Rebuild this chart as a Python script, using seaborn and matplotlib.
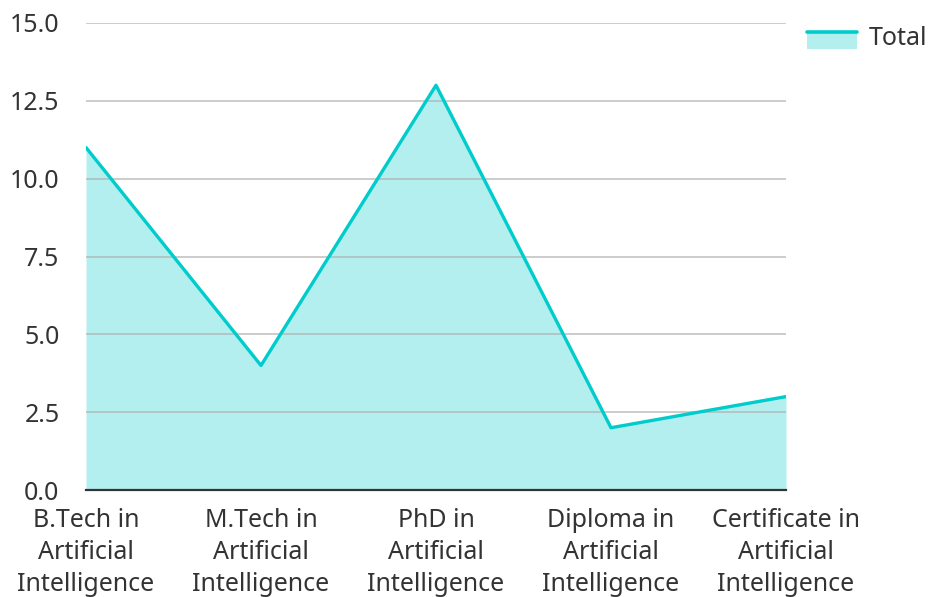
import numpy as np
import pandas as pd
import matplotlib.pyplot as plt
import seaborn as sns
from matplotlib.patches import Rectangle
from matplotlib.lines import Line2D

# chart data
courses = ["B.Tech in\nArtificial\nIntelligence", "M.Tech in\nArtificial\nIntelligence",
           "PhD in\nArtificial\nIntelligence", "Diploma in\nArtificial\nIntelligence",
           "Certificate in\nArtificial\nIntelligence"]
totals = [11, 4, 13, 2, 3]
y_ticks = [0.0, 2.5, 5.0, 7.5, 10.0, 12.5, 15.0]

df = pd.DataFrame({"pos": np.arange(len(courses)), "Total": totals})

sns.set_style("white")
plt.rcParams['font.family'] = ['Noto Sans', 'DejaVu Sans']

line_col = "#00cccc"
fill_col = "#b2efee"
text_col = "#333333"


# legend key: filled area with the line on its top edge
class AreaHandler:
    def legend_artist(self, legend, orig_handle, fontsize, handlebox):
        x0, y0 = handlebox.xdescent, handlebox.ydescent
        w, h = handlebox.width, handlebox.height
        top = y0 + h * 0.7
        patch = Rectangle((x0, top - h * 0.95), w, h * 0.95, facecolor=fill_col,
                          edgecolor="none", transform=handlebox.get_transform())
        line = Line2D([x0, x0 + w], [top, top], color=line_col, lw=2.6,
                      transform=handlebox.get_transform())
        handlebox.add_artist(patch)
        handlebox.add_artist(line)
        return patch


fig = plt.figure(figsize=(9.29, 5.97), dpi=100)
ax = fig.add_axes([86/929, 1 - 490/597, 700/929, 467/597])

ax.fill_between(df["pos"], df["Total"], color=fill_col, zorder=1, lw=0)
for t in y_ticks[1:]:
    ax.axhline(t, color="#b0b0b0", lw=1.2, alpha=0.75, zorder=2)
sns.lineplot(data=df, x="pos", y="Total", color=line_col, lw=2.4, ax=ax, zorder=3)

ax.set_xlim(0, len(courses) - 1)
ax.set_ylim(0, 15)
ax.set_yticks(y_ticks)
ax.set_yticklabels([f"{t:.1f}" for t in y_ticks])
ax.set_xticks(df["pos"])
ax.set_xticklabels(courses, linespacing=1.36)
ax.tick_params(axis="both", length=0, labelsize=18, labelcolor=text_col)
ax.tick_params(axis="y", pad=19)
ax.tick_params(axis="x", pad=13)
ax.set_xlabel("")
ax.set_ylabel("")
for s in ["top", "right", "left"]:
    ax.spines[s].set_visible(False)
ax.spines["bottom"].set_color("#333333")
ax.spines["bottom"].set_linewidth(1.6)
ax.spines["bottom"].set_zorder(4)

fig.legend([object()], ["Total"], handler_map={object: AreaHandler()},
           loc="upper right", bbox_to_anchor=(1.014, 0.982), borderaxespad=0.2,
           frameon=False, fontsize=18, handlelength=2.0, handletextpad=0.45,
           labelcolor=text_col)

fig.savefig("out.png", dpi=100)
